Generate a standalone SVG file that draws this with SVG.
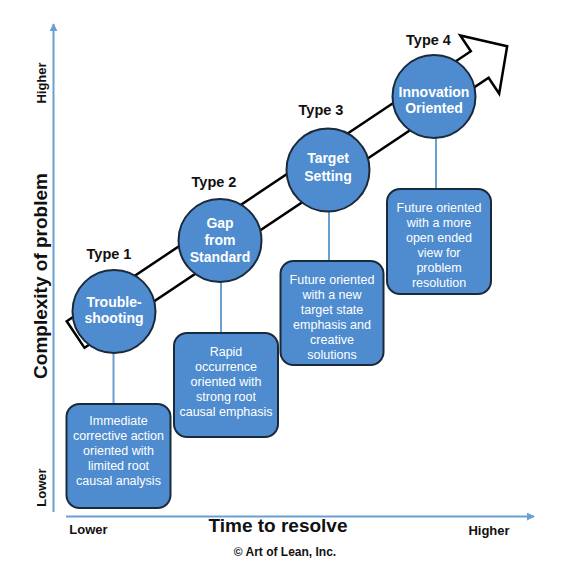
<svg xmlns="http://www.w3.org/2000/svg" width="576" height="566" viewBox="0 0 576 566">
<defs>
<style>
text{font-family:"Liberation Sans",Arial,sans-serif}
.axis{stroke:#6a9fd2;stroke-width:2;fill:none}
.ax{font-size:13px;font-weight:bold;fill:#111}
.big{font-size:19px;font-weight:bold;fill:#111}
.type{font-size:14.5px;font-weight:bold;fill:#111;text-anchor:middle}
.node circle{fill:#4e8ccf;stroke:#1b2a3b;stroke-width:2}
.node rect{fill:#4e8ccf;stroke:#1b2a3b;stroke-width:2}
.ct{font-size:14px;font-weight:bold;fill:#fff;text-anchor:middle}
.bt{font-size:12.5px;fill:#fff;text-anchor:middle}
.link{stroke:#6a9fd2;stroke-width:2}
</style>
<marker id="ah" viewBox="0 0 10 10" refX="9" refY="5" markerWidth="4" markerHeight="4" orient="auto" markerUnits="strokeWidth">
<path d="M0,0 L10,5 L0,10 z" fill="#6a9fd2"/>
</marker>
</defs>
<rect width="576" height="566" fill="#fff"/>

<g id="axes">
<line class="axis" x1="53.5" y1="512" x2="53.5" y2="24" marker-end="url(#ah)"/>
<line class="axis" x1="66" y1="516.5" x2="534" y2="516.5" marker-end="url(#ah)"/>
<text class="ax" transform="translate(46,83) rotate(-90)" text-anchor="middle">Higher</text>
<text class="big" transform="translate(46.5,276) rotate(-90)" text-anchor="middle">Complexity of problem</text>
<text class="ax" transform="translate(46,487.5) rotate(-90)" text-anchor="middle">Lower</text>
<text class="ax" x="88.5" y="534" text-anchor="middle">Lower</text>
<text class="big" x="278" y="532" text-anchor="middle">Time to resolve</text>
<text class="ax" x="489" y="534.5" text-anchor="middle">Higher</text>
<text x="285" y="556" text-anchor="middle" font-size="12" font-weight="bold" fill="#111">© Art of Lean, Inc.</text>
</g>

<g id="big-arrow" transform="translate(177.9,266.2) rotate(-33.75)">
<polygon points="-123,-16 363,-16 363,-35 396,0 363,35 363,16 -123,16" fill="#fff" stroke="#000" stroke-width="2.5" stroke-linejoin="miter"/>
</g>

<g id="connectors">
<line class="link" x1="113.5" y1="353" x2="113.5" y2="404"/>
<line class="link" x1="221" y1="282" x2="221" y2="333"/>
<line class="link" x1="329" y1="211" x2="329" y2="261"/>
<line class="link" x1="436" y1="138" x2="436" y2="189"/>
</g>

<g id="type1" class="node">
<text class="type" x="109" y="258.5">Type 1</text>
<circle cx="114" cy="311.5" r="41.5"/>
<text class="ct" x="114" y="306.7">Trouble-</text>
<text class="ct" x="114" y="323">shooting</text>
</g>

<g id="type2" class="node">
<text class="type" x="214" y="187">Type 2</text>
<circle cx="220" cy="240.5" r="41.5"/>
<text class="ct" x="220" y="227.7">Gap</text>
<text class="ct" x="220" y="245">from</text>
<text class="ct" x="220" y="262.3">Standard</text>
</g>

<g id="type3" class="node">
<text class="type" x="321" y="115">Type 3</text>
<circle cx="328" cy="170" r="41.5"/>
<text class="ct" x="328" y="163">Target</text>
<text class="ct" x="328" y="181">Setting</text>
</g>

<g id="type4" class="node">
<text class="type" x="428.5" y="44.5">Type 4</text>
<circle cx="434" cy="96.5" r="41.5"/>
<text class="ct" x="434" y="96.7">Innovation</text>
<text class="ct" x="434" y="113">Oriented</text>
</g>

<g id="box1" class="node">
<rect x="66.5" y="404" width="104" height="104" rx="13"/>
<text class="bt" x="118.5" y="424.5">Immediate</text>
<text class="bt" x="118.5" y="439.5">corrective action</text>
<text class="bt" x="118.5" y="454.5">oriented with</text>
<text class="bt" x="118.5" y="469.5">limited root</text>
<text class="bt" x="118.5" y="484.5">causal analysis</text>
</g>

<g id="box2" class="node">
<rect x="174" y="333" width="104" height="104" rx="13"/>
<text class="bt" x="226" y="356">Rapid</text>
<text class="bt" x="226" y="371">occurrence</text>
<text class="bt" x="226" y="386">oriented with</text>
<text class="bt" x="226" y="401">strong root</text>
<text class="bt" x="226" y="416">causal emphasis</text>
</g>

<g id="box3" class="node">
<rect x="280.5" y="261" width="103" height="104" rx="13"/>
<text class="bt" x="332" y="283.5">Future oriented</text>
<text class="bt" x="332" y="298.5">with a new</text>
<text class="bt" x="332" y="313.5">target state</text>
<text class="bt" x="332" y="328.5">emphasis and</text>
<text class="bt" x="332" y="343.5">creative</text>
<text class="bt" x="332" y="358.5">solutions</text>
</g>

<g id="box4" class="node">
<rect x="387" y="189" width="104" height="105" rx="13"/>
<text class="bt" x="439" y="212">Future oriented</text>
<text class="bt" x="439" y="227">with a more</text>
<text class="bt" x="439" y="242">open ended</text>
<text class="bt" x="439" y="257">view for</text>
<text class="bt" x="439" y="272">problem</text>
<text class="bt" x="439" y="287">resolution</text>
</g>
</svg>
